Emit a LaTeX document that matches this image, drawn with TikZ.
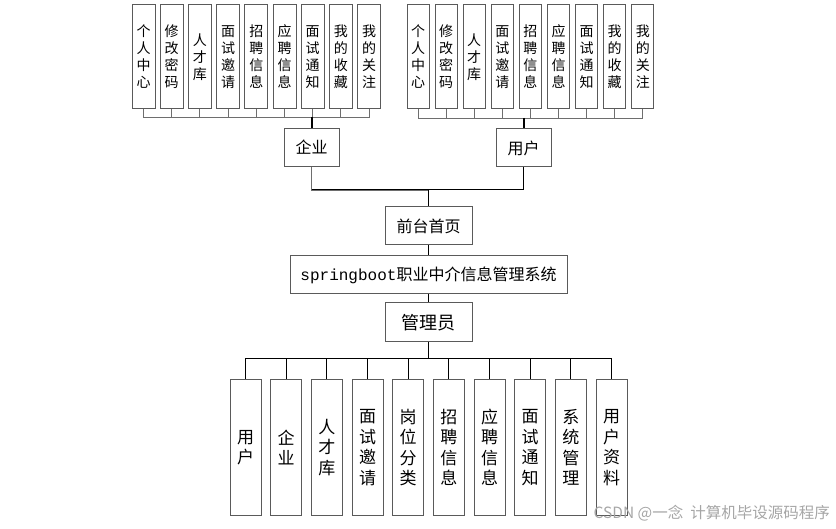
\documentclass[tikz,border=0pt]{standalone}
\usepackage{fontspec}
\setmainfont{Noto Sans CJK SC}
\newfontfamily\latinmono{Liberation Mono}
\usetikzlibrary{positioning}
\definecolor{boxgray}{RGB}{90,90,90}
\definecolor{wiregray}{RGB}{110,110,110}

\begin{document}
\begin{tikzpicture}[x=1pt, y=-1pt,
    leafbox/.style={draw=boxgray, line width=1pt, inner sep=0pt, align=center,
        minimum width=23pt, minimum height=104pt, font=\fontsize{14}{17}\selectfont},
    adminleaf/.style={draw=boxgray, line width=1pt, inner sep=0pt, align=center,
        minimum width=31pt, minimum height=135pt, font=\fontsize{17}{20.5}\selectfont},
    hubbox/.style={draw=boxgray, line width=1pt, inner sep=0pt, align=center,
        minimum height=38pt, font=\fontsize{16}{18}\selectfont},
    wire/.style={draw=wiregray, line width=0.9pt},
    trunk/.style={draw=black, line width=1pt}]

    \useasboundingbox (0,0) rectangle (836,529);

    % Top groups
    \foreach \t [count=\i from 0] in {{个\\人\\中\\心},{修\\改\\密\\码},{人\\才\\库},{面\\试\\邀\\请},
        {招\\聘\\信\\息},{应\\聘\\信\\息},{面\\试\\通\\知},{我\\的\\收\\藏},{我\\的\\关\\注}} {
        \node[leafbox] (qa\i) at (143.5+28.2*\i, 57) {\t};
        \node[leafbox, minimum width=22pt] (ya\i) at (418+28.1*\i, 57) {\t};
    }

    % Hubs
    \node[hubbox, minimum width=55pt] (qy) at (311.5, 147.5) {企业};
    \node[hubbox, minimum width=55pt] (yh) at (523.5, 148) {用户};
    \node[hubbox, minimum width=87pt] (home) at (428.5, 226) {前台首页};
    \node[hubbox, minimum width=277pt] (sys) at (428.5, 275) {{\latinmono springboot}职业中介信息管理系统};
    \node[hubbox, minimum width=87pt, minimum height=39pt, font=\fontsize{18}{20}\selectfont] (admin) at (428.5, 322.5) {管理员};

    % Admin leaves
    \foreach \t [count=\i from 0] in {{用\\户},{企\\业},{人\\才\\库},{面\\试\\邀\\请},{岗\\位\\分\\类},
        {招\\聘\\信\\息},{应\\聘\\信\\息},{面\\试\\通\\知},{系\\统\\管\\理},{用\\户\\资\\料}} {
        \node[adminleaf] (ad\i) at (245.5+40.67*\i, 447.5) {\t};
    }

    % Bus points
    \coordinate (qbus) at (311.5, 117);
    \coordinate (ybus) at (523.5, 118);
    \coordinate (mid) at (428.5, 190);
    \coordinate (abus) at (428.5, 359);

    % Connectors
    \foreach \i in {0,...,8} {
        \draw[wire] (qa\i.south) |- (qbus);
        \draw[wire] (ya\i.south) |- (ybus);
    }
    \draw[trunk, line width=2pt] (qbus) -- (qy.north);
    \draw[trunk, line width=2pt] (ybus) -- (yh.north);
    \draw[wire] (qy.south) |- (mid);
    \draw[trunk] (mid) -| (yh.south);
    \draw[trunk] (qy.south |- mid) -- (mid);
    \draw[trunk] (mid) -- (home.north);
    \draw[trunk] (home.south) -- (sys.north);
    \draw[trunk] (sys.south) -- (admin.north);
    \draw[trunk, line width=1.5pt] (admin.south) -- (abus);
    \foreach \i in {0,...,9} {
        \draw[trunk] (abus) -| (ad\i.north);
    }

    % Watermark
    \node[text=black!35, font=\fontsize{15.5}{17}\selectfont, anchor=east, inner sep=0pt] (mark) at (830, 513) {CSDN @一念\ \ 计算机毕设源码程序};
\end{tikzpicture}
\end{document}
